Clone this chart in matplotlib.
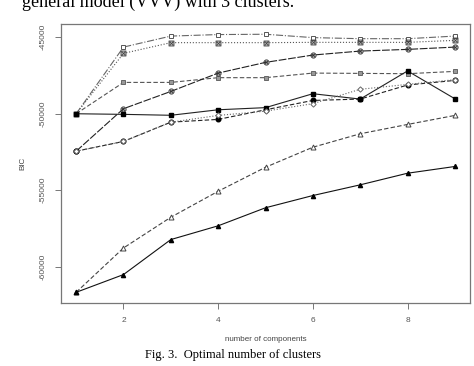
import matplotlib
matplotlib.use('Agg')
import matplotlib.pyplot as plt

# number of components
comps = [1, 2, 3, 4, 5, 6, 7, 8, 9]

# BIC values per model
bic_open_sq = [-50000, -45640, -44920, -44820, -44800, -45020, -45090, -45090, -44920]
bic_x_sq = [-50000, -46050, -45350, -45350, -45350, -45330, -45330, -45330, -45200]
bic_grey_sq = [-50000, -47950, -47950, -47640, -47640, -47340, -47360, -47380, -47230]
bic_circ_x = [-52450, -49670, -48540, -47340, -46640, -46160, -45900, -45790, -45640]
bic_fill_sq = [-50000, -50040, -50100, -49740, -49600, -48690, -49040, -47200, -49020]
bic_fill_circ = [-52450, -51810, -50550, -50370, -49740, -49130, -49040, -48120, -47820]
bic_diamond = [-52450, -51810, -50550, -50110, -49830, -49340, -48400, -48080, -47770]
bic_open_tri = [-61680, -58780, -56770, -55070, -53500, -52190, -51310, -50700, -50110]
bic_fill_tri = [-61680, -60520, -58230, -57330, -56150, -55350, -54650, -53890, -53450]

xticks = [2, 4, 6, 8]
yticks = [-60000, -55000, -50000, -45000]

fig = plt.figure(figsize=(4.74, 3.66), dpi=100)
ax = fig.add_axes([0.1287, 0.1721, 0.8629, 0.7623])

ms = 3.3
lw = 0.8
ax.plot(comps, bic_open_sq, color='#666666', lw=lw, ls='-.', marker='s', ms=ms,
        mfc='white', mec='#555555', mew=0.7)
ax.plot(comps, bic_x_sq, color='#555555', lw=lw, ls=':', marker='$\\boxtimes$', ms=ms + 0.6,
        mec='#444444', mfc='#444444', mew=0.2)
ax.plot(comps, bic_grey_sq, color='#555555', lw=lw, ls=(0, (4, 2)), marker='s', ms=ms,
        mfc='#999999', mec='#666666', mew=0.7)
ax.plot(comps, bic_circ_x, color='#222222', lw=lw, ls=(0, (7, 1.5)), marker='$\\otimes$', ms=ms + 0.8,
        mec='#333333', mfc='#333333', mew=0.2)
ax.plot(comps, bic_fill_sq, color='#222222', lw=lw, ls='-', marker='s', ms=ms - 0.3,
        mfc='black', mec='black')
ax.plot(comps, bic_fill_circ, color='#222222', lw=lw, ls=(0, (4, 2)), marker='o', ms=ms,
        mfc='black', mec='black')
ax.plot(comps, bic_diamond, color='#666666', lw=lw, ls=':', marker='D', ms=ms - 0.6,
        mfc='white', mec='#666666', mew=0.7)
ax.plot(comps, bic_open_tri, color='#444444', lw=lw, ls=(0, (4, 2)), marker='^', ms=ms + 0.3,
        mfc='white', mec='#444444', mew=0.7)
ax.plot(comps, bic_fill_tri, color='#111111', lw=lw, ls='-', marker='^', ms=ms - 0.3,
        mfc='black', mec='black')

ax.set_xlim(0.68, 9.32)
ax.set_ylim(-62380, -44130)
ax.set_xticks(xticks)
ax.set_yticks(yticks)
ax.set_yticklabels([str(v) for v in yticks], rotation=90, va='center')

for s in ax.spines.values():
    s.set_color('#777777')
    s.set_linewidth(0.9)
ax.tick_params(direction='out', length=4, width=0.7, color='#777777',
               labelsize=6, labelcolor='#555555', pad=6)
for lab in ax.get_xticklabels() + ax.get_yticklabels():
    lab.set_family('Liberation Sans')

ax.set_xlabel('number of components', fontsize=5.8, color='#444444',
              family='Liberation Sans', labelpad=9)
ax.set_ylabel('BIC', fontsize=5.8, color='#444444', family='Liberation Sans', labelpad=10)

fig.text(0.046, 0.981, 'general model (VVV) with 3 clusters.', fontsize=13,
         family='Liberation Serif', va='baseline', ha='left')
fig.text(0.492, 0.03, 'Fig. 3.  Optimal number of clusters', fontsize=9,
         family='Liberation Serif', va='center', ha='center')

fig.savefig('out.png', dpi=100)
